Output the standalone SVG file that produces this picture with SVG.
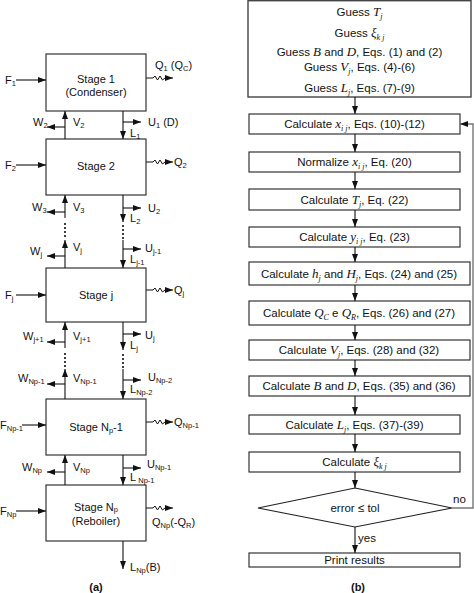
<svg xmlns="http://www.w3.org/2000/svg" width="474" height="593" viewBox="0 0 474 593">
<defs>
<marker id="ah" markerWidth="8" markerHeight="6" refX="8" refY="3" orient="auto" markerUnits="userSpaceOnUse"><path d="M0,0 L8,3 L0,6 z" fill="#111"/></marker>
<marker id="ahg" markerWidth="8" markerHeight="6" refX="8" refY="3" orient="auto" markerUnits="userSpaceOnUse"><path d="M0,0 L8,3 L0,6 z" fill="#111"/></marker>
<style>
text{font-family:"Liberation Sans",Arial,sans-serif;font-size:11px;fill:#111}
.c{text-anchor:middle}
.f{font-size:11.5px}
.s{font-size:7.5px}
.m{font-family:"Liberation Serif","Times New Roman",serif;font-style:italic;font-size:13px}
.ms{font-family:"Liberation Serif","Times New Roman",serif;font-style:italic;font-size:8px}
.b{font-weight:bold;font-size:11px}
.box{fill:#fff;stroke:#222;stroke-width:1.1}
.ln{fill:none;stroke:#111;stroke-width:1.1}
.dot{fill:none;stroke:#111;stroke-width:1.6;stroke-dasharray:2,2}
.q{fill:none;stroke:#111;stroke-width:1}
</style>
</defs>
<rect width="474" height="593" fill="#fff"/>

<!-- Left column stages -->
<g id="stage1"><rect class="box" x="46" y="54" width="100" height="57"/><text class="c" x="96" y="83">Stage 1</text><text class="c" x="96" y="96">(Condenser)</text></g>
<g id="stage2"><rect class="box" x="46" y="139" width="100" height="56"/><text class="c" x="96" y="170">Stage 2</text></g>
<g id="stagej"><rect class="box" x="46" y="268" width="100" height="54"/><text class="c" x="96" y="299">Stage j</text></g>
<g id="stageNp1"><rect class="box" x="46" y="399" width="100" height="56"/><text class="c" x="96" y="431">Stage N<tspan class="s" dy="2">p</tspan><tspan dy="-2">-1</tspan></text></g>
<g id="stageNp"><rect class="box" x="46" y="485" width="100" height="56"/><text class="c" x="96" y="510.5">Stage N<tspan class="s" dy="1.5">p</tspan></text><text class="c" x="96" y="525">(Reboiler)</text></g>

<g id="connectors-left">
<!-- feeds -->
<path class="ln" d="M16,80 H46" marker-end="url(#ah)"/>
<path class="ln" d="M16,165 H46" marker-end="url(#ah)"/>
<path class="ln" d="M16,295 H46" marker-end="url(#ah)"/>
<path class="ln" d="M22,425 H46" marker-end="url(#ah)"/>
<path class="ln" d="M16,511 H46" marker-end="url(#ah)"/>
<!-- heat -->
<path class="q" d="M146,78 H153 L155,76 L157.5,80 L160,76 L162.5,80 L165,78 H173" marker-end="url(#ah)"/>
<path class="q" d="M146,162 H153 L155,160 L157.5,164 L160,160 L162.5,164 L165,162 H173" marker-end="url(#ah)"/>
<path class="q" d="M146,290 H153 L155,288 L157.5,292 L160,288 L162.5,292 L165,290 H173" marker-end="url(#ah)"/>
<path class="q" d="M146,422 H153 L155,420 L157.5,424 L160,420 L162.5,424 L165,422 H173" marker-end="url(#ah)"/>
<path class="q" d="M146,508 H153 L155,506 L157.5,510 L160,506 L162.5,510 L165,508 H173" marker-end="url(#ah)"/>
<!-- 1-2 -->
<path class="ln" d="M65,139 V111" marker-end="url(#ah)"/>
<path class="ln" d="M65,127 H47" marker-end="url(#ah)"/>
<path class="ln" d="M123,111 V139" marker-end="url(#ah)"/>
<path class="ln" d="M123,122 H141" marker-end="url(#ah)"/>
<!-- 2-j -->
<path class="ln" d="M65,218 V195" marker-end="url(#ah)"/>
<path class="ln" d="M65,212 H47" marker-end="url(#ah)"/>
<path class="dot" d="M65,223 V238"/>
<path class="ln" d="M65,268 V240" marker-end="url(#ah)"/>
<path class="ln" d="M65,256 H47" marker-end="url(#ah)"/>
<path class="ln" d="M123,195 V222" marker-end="url(#ah)"/>
<path class="ln" d="M123,208 H141" marker-end="url(#ah)"/>
<path class="dot" d="M123,225 V239"/>
<path class="ln" d="M123,240 V268" marker-end="url(#ah)"/>
<path class="ln" d="M123,249 H141" marker-end="url(#ah)"/>
<!-- j-Np-1 -->
<path class="ln" d="M65,348 V322" marker-end="url(#ah)"/>
<path class="ln" d="M65,342 H47" marker-end="url(#ah)"/>
<path class="dot" d="M65,353 V367"/>
<path class="ln" d="M65,399 V369" marker-end="url(#ah)"/>
<path class="ln" d="M65,384 H47" marker-end="url(#ah)"/>
<path class="ln" d="M123,322 V350" marker-end="url(#ah)"/>
<path class="ln" d="M123,334 H141" marker-end="url(#ah)"/>
<path class="dot" d="M123,354 V368"/>
<path class="ln" d="M123,369 V399" marker-end="url(#ah)"/>
<path class="ln" d="M123,380 H141" marker-end="url(#ah)"/>
<!-- Np-1 - Np -->
<path class="ln" d="M65,485 V455" marker-end="url(#ah)"/>
<path class="ln" d="M65,472 H47" marker-end="url(#ah)"/>
<path class="ln" d="M123,455 V485" marker-end="url(#ah)"/>
<path class="ln" d="M123,468 H141" marker-end="url(#ah)"/>
<path class="ln" d="M123,541 V569" marker-end="url(#ah)"/>
</g>

<g id="labels-left">
<text x="5" y="84">F<tspan class="s" dy="2">1</tspan></text>
<text x="5" y="169">F<tspan class="s" dy="2">2</tspan></text>
<text x="5" y="299">F<tspan class="s" dy="2">j</tspan></text>
<text x="0" y="429">F<tspan class="s" dy="2">Np-1</tspan></text>
<text x="0" y="515">F<tspan class="s" dy="2">Np</tspan></text>
<text x="155" y="69">Q<tspan class="s" dy="2">1</tspan><tspan dy="-2"> (Q</tspan><tspan class="s" dy="2">C</tspan><tspan dy="-2">)</tspan></text>
<text x="174" y="166">Q<tspan class="s" dy="2">2</tspan></text>
<text x="174" y="294">Q<tspan class="s" dy="2">j</tspan></text>
<text x="174" y="426">Q<tspan class="s" dy="2">Np-1</tspan></text>
<text x="152" y="526">Q<tspan class="s" dy="2">Np</tspan><tspan dy="-2">(-Q</tspan><tspan class="s" dy="2">R</tspan><tspan dy="-2">)</tspan></text>
<text x="33" y="126">W<tspan class="s" dy="2">2</tspan></text>
<text x="73" y="126">V<tspan class="s" dy="2">2</tspan></text>
<text x="148" y="126">U<tspan class="s" dy="2">1</tspan><tspan dy="-2"> (D)</tspan></text>
<text x="130" y="137">L<tspan class="s" dy="2">1</tspan></text>
<text x="32" y="211">W<tspan class="s" dy="2">3</tspan></text>
<text x="73" y="211">V<tspan class="s" dy="2">3</tspan></text>
<text x="148" y="212">U<tspan class="s" dy="2">2</tspan></text>
<text x="130" y="222">L<tspan class="s" dy="2">2</tspan></text>
<text x="30" y="255">W<tspan class="s" dy="2">j</tspan></text>
<text x="73" y="251">V<tspan class="s" dy="2">j</tspan></text>
<text x="145" y="252">U<tspan class="s" dy="2">j-1</tspan></text>
<text x="130" y="263">L<tspan class="s" dy="2">j-1</tspan></text>
<text x="23" y="340">W<tspan class="s" dy="2">j+1</tspan></text>
<text x="73" y="340">V<tspan class="s" dy="2">j+1</tspan></text>
<text x="145" y="339">U<tspan class="s" dy="2">j</tspan></text>
<text x="130" y="349">L<tspan class="s" dy="2">j</tspan></text>
<text x="18" y="382">W<tspan class="s" dy="2">Np-1</tspan></text>
<text x="73" y="382">V<tspan class="s" dy="2">Np-1</tspan></text>
<text x="148" y="381">U<tspan class="s" dy="2">Np-2</tspan></text>
<text x="130" y="393">L<tspan class="s" dy="2">Np-2</tspan></text>
<text x="22" y="471">W<tspan class="s" dy="2">Np</tspan></text>
<text x="73" y="471">V<tspan class="s" dy="2">Np</tspan></text>
<text x="147" y="468">U<tspan class="s" dy="2">Np-1</tspan></text>
<text x="130" y="481">L<tspan class="s" dy="2"> Np-1</tspan></text>
<text x="130" y="571">L<tspan class="s" dy="2">Np</tspan><tspan dy="-2">(B)</tspan></text>
<text class="c b" x="96" y="591">(a)</text>
</g>

<!-- Right flowchart -->
<g id="init">
<rect x="248" y="0.7" width="223" height="96.3" fill="#fff" stroke="#444" stroke-width="1.4"/>
<text class="c f" x="359.5" y="16">Guess <tspan class="m">T</tspan><tspan class="ms" dy="3">j</tspan></text>
<text class="c f" x="359.5" y="37">Guess <tspan class="m">ξ</tspan><tspan class="ms" dy="3">k j</tspan></text>
<text class="c f" x="359.5" y="56">Guess <tspan class="m">B</tspan> and <tspan class="m">D</tspan>, Eqs. (1) and (2)</text>
<text class="c f" x="359.5" y="71">Guess <tspan class="m">V</tspan><tspan class="ms" dy="3">j</tspan><tspan dy="-3">, Eqs. (4)-(6)</tspan></text>
<text class="c f" x="359.5" y="92">Guess <tspan class="m">L</tspan><tspan class="ms" dy="3">j</tspan><tspan dy="-3">, Eqs. (7)-(9)</tspan></text>
</g>
<g id="calc-x"><rect class="box" x="249" y="114" width="211" height="20"/><text class="c f" x="354.5" y="128">Calculate <tspan class="m">x</tspan><tspan class="ms" dy="3">i j</tspan><tspan dy="-3">, Eqs. (10)-(12)</tspan></text></g>
<g id="norm-x"><rect class="box" x="249" y="152" width="211" height="20"/><text class="c f" x="354.5" y="166">Normalize <tspan class="m">x</tspan><tspan class="ms" dy="3">i j</tspan><tspan dy="-3">, Eq. (20)</tspan></text></g>
<g id="calc-T"><rect class="box" x="249" y="189" width="211" height="21"/><text class="c f" x="354.5" y="203.5">Calculate <tspan class="m">T</tspan><tspan class="ms" dy="3">j</tspan><tspan dy="-3">, Eq. (22)</tspan></text></g>
<g id="calc-y"><rect class="box" x="249" y="227" width="211" height="20"/><text class="c f" x="354.5" y="241">Calculate <tspan class="m">y</tspan><tspan class="ms" dy="3">i j</tspan><tspan dy="-3">, Eq. (23)</tspan></text></g>
<g id="calc-h"><rect class="box" x="249" y="262" width="221" height="23"/><text class="c f" x="359" y="277.5">Calculate <tspan class="m">h</tspan><tspan class="ms" dy="3">j</tspan><tspan dy="-3"> and </tspan><tspan class="m">H</tspan><tspan class="ms" dy="3">j</tspan><tspan dy="-3">, Eqs. (24) and (25)</tspan></text></g>
<g id="calc-Q"><rect class="box" x="249" y="301" width="221" height="24"/><text class="c f" x="359" y="317">Calculate <tspan class="m">Q</tspan><tspan class="ms" dy="3">C</tspan><tspan dy="-3"> e </tspan><tspan class="m">Q</tspan><tspan class="ms" dy="3">R</tspan><tspan dy="-3">, Eqs. (26) and (27)</tspan></text></g>
<g id="calc-V"><rect class="box" x="249" y="340" width="221" height="20"/><text class="c f" x="359" y="354">Calculate <tspan class="m">V</tspan><tspan class="ms" dy="3">j</tspan><tspan dy="-3">, Eqs. (28) and (32)</tspan></text></g>
<g id="calc-BD"><rect class="box" x="249" y="376" width="221" height="20"/><text class="c f" x="359" y="390">Calculate <tspan class="m">B</tspan> and <tspan class="m">D</tspan>, Eqs. (35) and (36)</text></g>
<g id="calc-L"><rect class="box" x="249" y="415" width="211" height="19"/><text class="c f" x="354.5" y="428.5">Calculate <tspan class="m">L</tspan><tspan class="ms" dy="3">j</tspan><tspan dy="-3">, Eqs. (37)-(39)</tspan></text></g>
<g id="calc-xi"><rect class="box" x="249" y="452" width="211" height="20"/><text class="c f" x="354.5" y="466">Calculate <tspan class="m">ξ</tspan><tspan class="ms" dy="3">k j</tspan></text></g>
<g id="check"><path class="box" d="M355,488 L452,508 L355,527 L258,508 Z"/><text class="c f" x="355" y="512">error ≤ tol</text></g>
<g id="print"><rect class="box" x="249" y="553" width="211" height="14"/><text class="c f" x="354.5" y="564">Print results</text></g>

<g id="connectors-right">
<path class="ln" d="M355,97 V114" marker-end="url(#ah)"/>
<path class="ln" d="M355,134 V152" marker-end="url(#ah)"/>
<path class="ln" d="M355,172 V189" marker-end="url(#ah)"/>
<path class="ln" d="M355,210 V227" marker-end="url(#ah)"/>
<path class="ln" d="M355,247 V262" marker-end="url(#ah)"/>
<path class="ln" d="M355,285 V301" marker-end="url(#ah)"/>
<path class="ln" d="M355,325 V340" marker-end="url(#ah)"/>
<path class="ln" d="M355,360 V376" marker-end="url(#ah)"/>
<path class="ln" d="M355,396 V415" marker-end="url(#ah)"/>
<path class="ln" d="M355,434 V452" marker-end="url(#ah)"/>
<path class="ln" d="M355,472 V488" marker-end="url(#ah)"/>
<path class="ln" d="M355,527 V553" marker-end="url(#ah)"/>
<path d="M452,508 H473 V124 H460" fill="none" stroke="#777" stroke-width="1.4" marker-end="url(#ahg)"/>
<text class="f" x="453" y="503">no</text>
<text class="f" x="358" y="542">yes</text>
</g>
<text class="c b" x="358" y="591">(b)</text>
</svg>
